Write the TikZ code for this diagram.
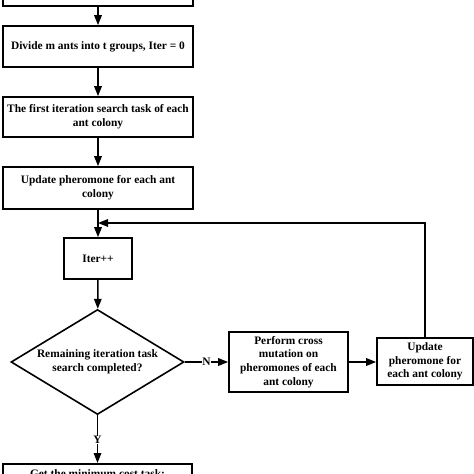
\documentclass[tikz,border=0pt]{standalone}
\usepackage{fontspec}
\setmainfont{Liberation Serif}
\usetikzlibrary{arrows.meta,shapes.geometric}
\tikzset{
  flow/.style={draw=black, line width=1.6pt, rectangle, align=center, font=\bfseries\fontsize{11.4}{13.7}\selectfont, inner sep=2pt},
  dec/.style={draw=black, line width=1.6pt, diamond, aspect=1.65, align=center, font=\bfseries\fontsize{11.4}{13.7}\selectfont, inner sep=0pt},
  arr/.style={line width=1.6pt, -{Triangle[length=10pt,width=7.5pt]}},
  lbl/.style={font=\bfseries\fontsize{11.4}{13}\selectfont, fill=white, inner sep=0.5pt}
}
\begin{document}
\begin{tikzpicture}[x=1pt,y=-1pt]
\useasboundingbox (0,0) rectangle (474,474);
\clip (0,0) rectangle (474,474);
\node[flow, minimum width=190, minimum height=40] (start) at (98,-14) {};
\node[flow, minimum width=190, minimum height=41] (divide) at (98,46.5) {Divide m ants into t groups, Iter = 0};
\node[flow, minimum width=190, minimum height=40] (first) at (98,117) {The first iteration search task of each\\ant colony};
\node[flow, minimum width=190, minimum height=42] (upd) at (98,188) {Update pheromone for each ant\\colony};
\node[flow, minimum width=68, minimum height=41] (iter) at (98,258.5) {Iter++};
\node[dec, minimum width=173, minimum height=105] (rem) at (97.5,362) {Remaining iteration task\\search completed?};
\node[flow, minimum width=119, minimum height=60] (cross) at (288.5,362) {Perform cross\\mutation on\\pheromones of each\\ant colony};
\node[flow, minimum width=96, minimum height=47] (upd2) at (425,361.5) {Update\\pheromone for\\each ant colony};
\node[flow, minimum width=189, minimum height=40, anchor=north] (final) at (97.5,463) {};
\node[font=\bfseries\fontsize{11.4}{13.7}\selectfont, inner sep=0pt, anchor=north] (finaltxt) at (97.5,469.5) {Get the minimum cost task:};
\coordinate (join) at (98,223);
\draw[arr] (start) -- (divide);
\draw[arr] (divide) -- (first);
\draw[arr] (first) -- (upd);
\draw[arr] (upd) -- (iter);
\draw[arr] (iter) -- (rem);
\draw[arr] (rem) -- node[lbl] (nlab) {N} (cross);
\draw[arr] (cross) -- (upd2.west |- cross.east);
\draw[arr] (upd2.north) |- (join);
\draw[arr] (rem) -- node[lbl, pos=0.52] (ylab) {Y} (final);
\end{tikzpicture}
\end{document}
